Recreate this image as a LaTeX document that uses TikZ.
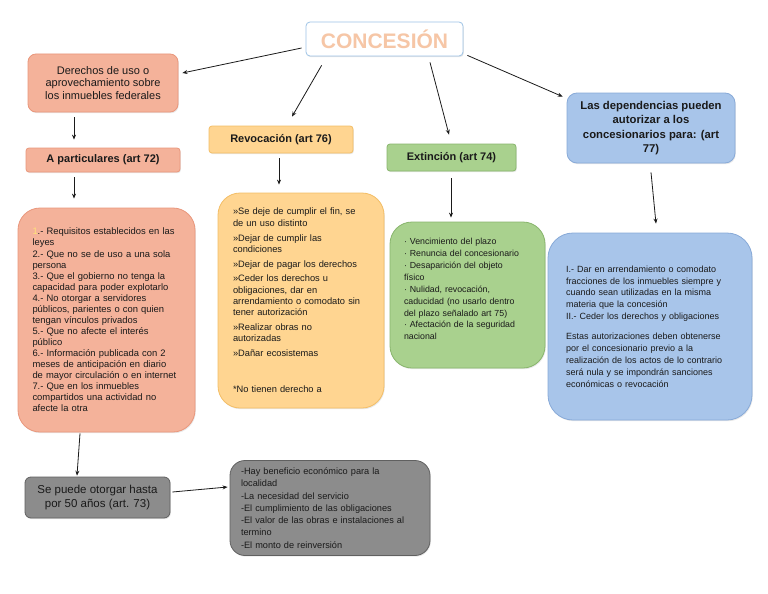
\documentclass[tikz,border=0pt]{standalone}
\usepackage{fontspec}
\setmainfont{Liberation Sans}
\usetikzlibrary{calc,shadows,arrows.meta}
\definecolor{salmon}{HTML}{F4B29A}
\definecolor{salmonD}{HTML}{E9977C}
\definecolor{orng}{HTML}{FFD591}
\definecolor{orngD}{HTML}{F3BE66}
\definecolor{grn}{HTML}{A9D18E}
\definecolor{grnD}{HTML}{88B56C}
\definecolor{blu}{HTML}{A8C5EA}
\definecolor{bluD}{HTML}{88AAD8}
\definecolor{gry}{HTML}{8C8C8C}
\definecolor{gryD}{HTML}{606060}
\definecolor{peach}{HTML}{F6C6A6}
\definecolor{framec}{HTML}{9DC3E6}
\definecolor{ink}{HTML}{1A1A1A}
\definecolor{yel}{HTML}{FFE27A}
\newcommand{\myfs}[2]{\fontsize{#1}{#2}\selectfont}
\begin{document}
\begin{tikzpicture}[x=1pt,y=-1pt,
  box/.style={draw, line width=0.8pt, inner sep=0pt, text=ink, align=center,
    drop shadow={opacity=0.18,shadow xshift=0.8pt,shadow yshift=-1.2pt}},
  salbox/.style={box, fill=salmon, draw=salmonD},
  orbox/.style={box, fill=orng, draw=orngD},
  grbox/.style={box, fill=grn, draw=grnD},
  blbox/.style={box, fill=blu, draw=bluD},
  gybox/.style={box, fill=gry, draw=gryD},
  head/.style={font=\myfs{11}{12.8}\bfseries},
  arr/.style={-{Stealth[length=5pt,width=4pt]}, line width=0.8pt, draw=ink}
]
\path[use as bounding box, fill=white] (0,0) rectangle (768,594);

% top node
\node[box, fill=white, draw=framec, rounded corners=4pt, minimum width=157pt, minimum height=34pt,
  text=peach, font=\myfs{21}{24}\bfseries] (conc) at (384.5,39) {CONCESIÓN};

% headers
\node[salbox, rounded corners=8pt, minimum width=150pt, minimum height=58pt,
  font=\myfs{11}{12.8}] (der) at (103,83)
  {Derechos de uso o\\aprovechamiento sobre\\los inmuebles federales};
\node[salbox, head, rounded corners=3pt, minimum width=154pt, minimum height=24pt] (apart) at (103,160)
  {A particulares (art 72)};
\node[orbox, head, rounded corners=3pt, minimum width=144pt, minimum height=27pt] (rev) at (281,139.5)
  {Revocación (art 76)};
\node[grbox, head, rounded corners=3pt, minimum width=129pt, minimum height=27pt] (ext) at (451.5,157.5)
  {Extinción (art 74)};
\node[blbox, rounded corners=10pt, minimum width=168pt, minimum height=70pt,
  font=\myfs{11.3}{14.5}\bfseries] (dep) at (651,128)
  {Las dependencias pueden\\autorizar a los\\concesionarios para: (art\\77)};

% lists
\node[salbox, rounded corners=22pt, minimum width=177pt, minimum height=224pt,
  text width=148pt, align=left, font=\myfs{9.4}{11.06}] (leftlist) at (106.5,320)
  {{\color{yel}1}.- Requisitos establecidos en las\\
  leyes\\
  2.- Que no se de uso a una sola\\
  persona\\
  3.- Que el gobierno no tenga la\\
  capacidad para poder explotarlo\\
  4.- No otorgar a servidores\\
  públicos, parientes o con quien\\
  tengan vínculos privados\\
  5.- Que no afecte el interés\\
  público\\
  6.- Información publicada con 2\\
  meses de anticipación en diario\\
  de mayor circulación o en internet\\
  7.- Que en los inmuebles\\
  compartidos una actividad no\\
  afecte la otra};

\node[orbox, rounded corners=22pt, minimum width=166pt, minimum height=215pt,
  text width=136pt, align=left, font=\myfs{9.3}{11.3}] (revlist) at (301,300.5)
  {»Se deje de cumplir el fin, se\\
  de un uso distinto\\[3.5pt]
  »Dejar de cumplir las\\
  condiciones\\[3.5pt]
  »Dejar de pagar los derechos\\[3.5pt]
  »Ceder los derechos u\\
  obligaciones, dar en\\
  arrendamiento o comodato sin\\
  tener autorización\\[3.5pt]
  »Realizar obras no\\
  autorizadas\\[3.5pt]
  »Dañar ecosistemas\\[24.7pt]
  *No tienen derecho a};

\node[grbox, rounded corners=22pt, minimum width=155pt, minimum height=146pt,
  text width=127pt, align=left, font=\myfs{8.8}{11.9}] (extlist) at (467.5,295)
  {· Vencimiento del plazo\\
  · Renuncia del concesionario\\
  · Desaparición del objeto\\
  físico\\
  · Nulidad, revocación,\\
  caducidad (no usarlo dentro\\
  del plazo señalado art 75)\\
  · Afectación de la seguridad\\
  nacional\\\mbox{}};

\node[blbox, rounded corners=25pt, minimum width=204pt, minimum height=187pt,
  text width=168pt, align=left, font=\myfs{9}{11.9}] (deplist) at (650,326.5)
  {I.- Dar en arrendamiento o comodato\\
  fracciones de los inmuebles siempre y\\
  cuando sean utilizadas en la misma\\
  materia que la concesión\\
  II.- Ceder los derechos y obligaciones\\[8pt]
  Estas autorizaciones deben obtenerse\\
  por el concesionario previo a la\\
  realización de los actos de lo contrario\\
  será nula y se impondrán sanciones\\
  económicas o revocación};

% bottom
\node[gybox, rounded corners=6pt, minimum width=145pt, minimum height=41pt,
  font=\myfs{11.5}{13.4}] (sepuede) at (97.5,497.5)
  {Se puede otorgar hasta\\por 50 años (art. 73)};
\node[gybox, rounded corners=15pt, minimum width=200pt, minimum height=95pt,
  text width=178pt, align=left, font=\myfs{9.2}{12.3}] (graylist) at (330,508)
  {-Hay beneficio económico para la\\
  localidad\\
  -La necesidad del servicio\\
  -El cumplimiento de las obligaciones\\
  -El valor de las obras e instalaciones al\\
  termino\\
  -El monto de reinversión};

% connectors
\draw[arr] ($(conc.west)+(-4,9)$) -- ($(der.east)+(4,-10)$);
\draw[arr] ($(conc.south west)+(16,9)$) -- ($(rev.north)+(11,-9)$);
\draw[arr] ($(conc.south)+(45.5,6)$) -- ($(ext.north)+(-2.5,-9)$);
\draw[arr] ($(conc.south east)+(4,-1)$) -- ($(dep.north west)+(-4,4)$);
\draw[arr] ($(der.south)+(-29,5)$) -- ($(apart.north)+(-29,-8)$);
\draw[arr] ($(apart.south)+(-29,5)$) -- ($(leftlist.north)+(-32.5,-9)$);
\draw[arr] ($(rev.south)+(-2,5)$) -- ($(revlist.north)+(-22,-8)$);
\draw[arr] ($(ext.south)+(-0.5,7)$) -- ($(extlist.north)+(-16.5,-4)$);
\draw[arr] ($(dep.south)+(0,9)$) -- ($(deplist.north)+(6,-9)$);
\draw[arr] ($(leftlist.south)+(-26.5,1)$) -- ($(sepuede.north)+(-20.5,-1)$);
\draw[arr] ($(sepuede.east)+(2,-5.5)$) -- ($(graylist.west)+(-2,-21)$);
\end{tikzpicture}
\end{document}
